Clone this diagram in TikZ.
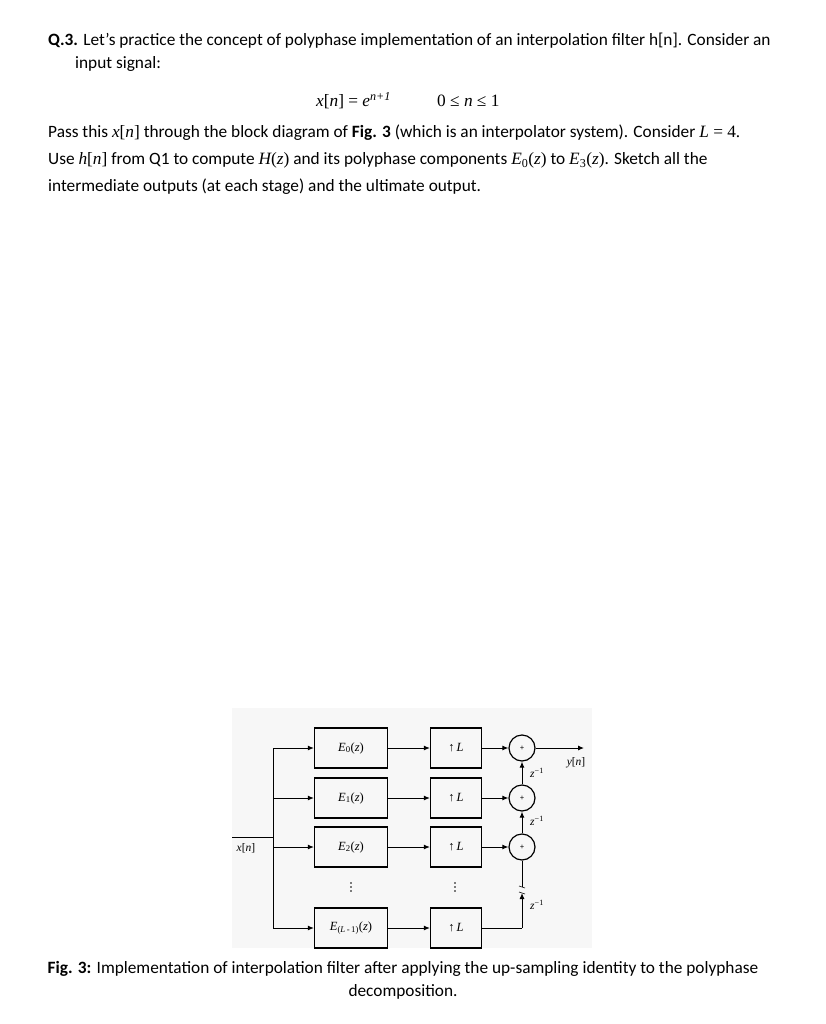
\documentclass[tikz,border=0pt]{standalone}
\usepackage{fontspec}
\setmainfont{Carlito}
\newfontfamily\serifm{Liberation Serif}
\usetikzlibrary{arrows.meta}
\begin{document}
\begin{tikzpicture}[x=1pt,y=-1pt,
  txt/.style={anchor=base west,inner sep=0,font=\fontsize{17.3}{20}\selectfont},
  blk/.style={draw,line width=1.2pt,minimum width=73,minimum height=40,inner sep=0,font=\serifm\fontsize{12.5}{14}\selectfont\itshape},
  ub/.style={draw,line width=1.2pt,minimum width=51,minimum height=40,inner sep=0,font=\serifm\fontsize{12.5}{14}\selectfont\itshape},
  add/.style={draw,circle,line width=1.2pt,minimum size=26,inner sep=0,font=\fontsize{8}{9}\selectfont},
  ar/.style={-{Latex[length=6,width=5]},line width=1pt},
  ln/.style={line width=1pt},
  dt/.style={fill,circle,inner sep=0,minimum size=1.6},
  lab/.style={inner sep=0,font=\serifm\fontsize{11.5}{13}\selectfont\itshape}]
\useasboundingbox (0,0) rectangle (825,1024);
\node[txt] (t1) at (48,46) {\textbf{Q.3.} Let’s practice the concept of polyphase implementation of an interpolation filter h[n]. Consider an};
\node[txt] (t2) at (75,69) {input signal:};
\node[txt] (f1) at (316,107) {\serifm\itshape x\upshape[\itshape n\upshape] = \itshape e\textsuperscript{n+1}};
\node[txt] (f2) at (437,107) {\serifm 0 ≤ \itshape n \upshape≤ 1};
\node[txt] (p1) at (48,138) {Pass this \serifm\itshape x\upshape[\itshape n\upshape]\normalfont{} through the block diagram of \textbf{Fig. 3} (which is an interpolator system). Consider \serifm\itshape L \upshape= 4.};
\node[txt] (p2) at (48,165) {Use \serifm\itshape h\upshape[\itshape n\upshape]\normalfont{} from Q1 to compute \serifm\itshape H\upshape(\itshape z\upshape)\normalfont{} and its polyphase components \serifm\itshape E\textsubscript{\upshape 0}\upshape(\itshape z\upshape)\normalfont{} to \serifm\itshape E\textsubscript{\upshape 3}\upshape(\itshape z\upshape)\normalfont. Sketch all the};
\node[txt] (p3) at (48,192) {intermediate outputs (at each stage) and the ultimate output.};
\fill[gray!6] (232,708) rectangle (592,948);
\node[blk] (e0) at (351,748) {E\textsubscript{\upshape 0}\upshape(\itshape z\upshape)};
\node[blk] (e1) at (351,798) {E\textsubscript{\upshape 1}\upshape(\itshape z\upshape)};
\node[blk] (e2) at (351,847) {E\textsubscript{\upshape 2}\upshape(\itshape z\upshape)};
\node[blk] (e3) at (351,928) {E\textsubscript{\upshape(\itshape L\upshape\,-\,1)}\upshape(\itshape z\upshape)};
\foreach \i/\y in {0/748,1/798,2/847,3/928}{
  \node[ub] (u\i) at (456,\y) {\upshape↑\,\itshape L};
  \draw[ar] (e\i) -- (u\i);
}
\node[add] (a0) at (522,748) {+};
\node[add] (a1) at (522,798) {+};
\node[add] (a2) at (522,847) {+};
\draw[ar] (u0) -- (a0); \draw[ar] (u1) -- (a1); \draw[ar] (u2) -- (a2);
\coordinate (xin) at (232,837);
\coordinate (sp) at (273,837);
\coordinate (bt) at (273,928);
\coordinate (tp) at (273,748);
\draw[ln] (xin) -- (sp);
\draw[ln] (tp) -- (bt);
\foreach \i/\y in {0/748,1/798,2/847,3/928}{ \draw[ar] (273,\y) -- (e\i); }
\node[lab] (xl) at (246,848) {x\upshape[\itshape n\upshape]};
\coordinate (yo) at (584,748);
\draw[ar] (a0) -- (yo);
\node[lab] (yl) at (576,763) {y\upshape[\itshape n\upshape]};
\draw[ar] (a1) -- (a0);
\draw[ar] (a2) -- (a1);
\coordinate (c3) at (522,928);
\coordinate (b1) at (522,887);
\coordinate (b2) at (522,893);
\draw[ln] (u3) -- (c3);
\draw[ar] (c3) -- (b2);
\draw[ln] (a2) -- (b1);
\draw[line width=0.6pt] (519,886) -- (525,888) (519,892) -- (525,894);
\node[lab] (z1) at (537,773) {z\textsuperscript{\upshape −1}};
\node[lab] (z2) at (537,821) {z\textsuperscript{\upshape −1}};
\node[lab] (z3) at (537,905) {z\textsuperscript{\upshape −1}};
\foreach \xx in {351,455}{\foreach \yy in {883,887,891}{\node[dt] at (\xx,\yy) {};}}
\node[txt,anchor=base] (c1) at (403,973) {\textbf{Fig. 3:} Implementation of interpolation filter after applying the up-sampling identity to the polyphase};
\node[txt,anchor=base] (c2) at (403,996) {decomposition.};
\end{tikzpicture}
\end{document}
